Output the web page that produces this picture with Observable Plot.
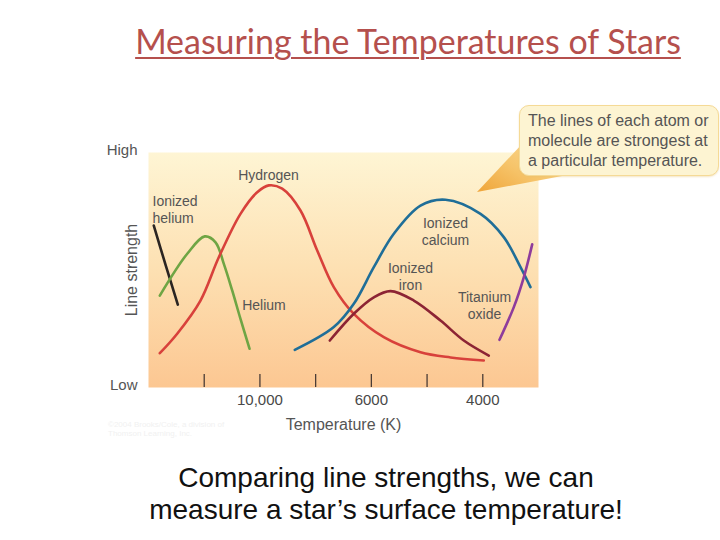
<!DOCTYPE html>
<html>
<head>
<meta charset="utf-8">
<script src="https://cdn.jsdelivr.net/npm/d3@7"></script>
<script src="https://cdn.jsdelivr.net/npm/@observablehq/plot@0.6"></script>
<style>
  body { margin: 0; background: #fff; }
  #page { position: relative; width: 720px; height: 540px; overflow: hidden; font-family: "Liberation Sans", Arial, sans-serif; }
  #chart { position: absolute; left: 0; top: 0; }
  #title { position: absolute; left: 108px; width: 600px; top: 21px; text-align: center; font-family: Lato, "Open Sans", sans-serif; color: #b5504d; white-space: nowrap; line-height: 40px; }
  #title span { display: inline-block; text-decoration: underline; text-decoration-thickness: 2px; text-underline-offset: 3px; }
  #caption { position: absolute; left: 0; width: 772px; top: 462px; text-align: center; font-size: 28px; line-height: 32px; color: #111; }
  #tail { position: absolute; left: 470px; top: 135px; width: 100px; height: 60px;
          clip-path: polygon(53px 8px, 7px 57px, 92px 41px);
          background: linear-gradient(to top right, #eea032 0%, #f6c46a 45%, #fce3a6 100%); }
  #callout { position: absolute; left: 519px; top: 105px; width: 190px; height: 64px; padding: 5px 0 0 8px;
             background: #fdf4d2; border: 1px solid #f5da96; border-radius: 10px; box-shadow: 0 1px 2px rgba(230,190,110,0.4);
             font-size: 16px; line-height: 20px; color: #555; white-space: nowrap; }
  #copy { position: absolute; left: 108px; top: 420px; font-size: 8px; line-height: 9px; color: #f1f1f1; }
</style>
</head>
<body>
<div id="page">
  <div id="chart"></div>
  <div id="tail"></div>
  <div id="callout">The lines of each atom or<br>molecule are strongest at<br>a particular temperature.</div>
  <div id="copy">©2004 Brooks/Cole, a division of<br>Thomson Learning, Inc.</div>
  <div id="title"><span id="titleText">Measuring the Temperatures of Stars</span></div>
  <div id="caption">Comparing line strengths, we can<br>measure a star’s surface temperature!</div>
</div>
<script>
// ---- Data (x = position on the spectral temperature axis, y = relative line strength 0..1) ----
const seriesNames = ["Ionized helium", "Helium", "Hydrogen", "Ionized calcium", "Ionized iron", "Titanium oxide"];
const seriesColors = ["#2b2522", "#6fa544", "#d8413b", "#1f6e98", "#8c2434", "#8e3c9c"];

const ionHeliumPos = [0.095, 0.305, 0.526];
const ionHeliumStrength = [0.689, 0.523, 0.353];

const heliumPos = [0.203, 0.695, 1.010, 1.203, 1.352, 1.502, 1.651, 1.813];
const heliumStrength = [0.391, 0.569, 0.643, 0.618, 0.526, 0.413, 0.292, 0.165];

const hydrogenPos = [0.203, 0.515, 0.933, 1.262, 1.651, 1.951, 2.159, 2.400, 2.728, 3.028, 3.326, 3.685, 4.223, 4.882, 5.421, 6.018];
const hydrogenStrength = [0.146, 0.229, 0.370, 0.554, 0.739, 0.831, 0.860, 0.846, 0.753, 0.583, 0.427, 0.313, 0.214, 0.150, 0.128, 0.115];

const ionCalciumPos = [2.626, 3.326, 3.685, 4.044, 4.403, 4.882, 5.331, 5.959, 6.377, 6.677, 6.856];
const ionCalciumStrength = [0.160, 0.257, 0.356, 0.512, 0.654, 0.774, 0.799, 0.739, 0.640, 0.512, 0.427];

const ionIronPos = [3.254, 3.685, 4.044, 4.344, 4.762, 5.241, 5.659, 6.108];
const ionIronStrength = [0.200, 0.314, 0.384, 0.410, 0.370, 0.285, 0.200, 0.136];

const tiOxidePos = [6.300, 6.557, 6.736, 6.887];
const tiOxideStrength = [0.203, 0.342, 0.469, 0.609];

const tickPositions = [1, 2, 3, 4, 5, 6];
const tickLabels = ["", "10,000", "", "6000", "", "4000"];

const labelTexts = ["Hydrogen", "Ionized\nhelium", "Helium", "Ionized\ncalcium", "Ionized\niron", "Titanium\noxide"];
const labelPos = [2.154, 0.072, 2.073, 5.331, 4.703, 6.031];
const labelStrength = [0.906, 0.760, 0.353, 0.666, 0.474, 0.351];
const labelAnchors = ["middle", "start", "middle", "middle", "middle", "middle"];

// ---- Build tables ----
const seriesPos = [ionHeliumPos, heliumPos, hydrogenPos, ionCalciumPos, ionIronPos, tiOxidePos];
const seriesStrength = [ionHeliumStrength, heliumStrength, hydrogenStrength, ionCalciumStrength, ionIronStrength, tiOxideStrength];
const rows = seriesNames.flatMap((name, s) =>
  seriesPos[s].map((p, i) => ({series: name, pos: p, strength: seriesStrength[s][i]})));
const labelRows = labelTexts.map((t, i) => ({text: t, pos: labelPos[i], strength: labelStrength[i], anchor: labelAnchors[i]}));
const tickLabelMap = new Map(tickPositions.map((p, i) => [p, tickLabels[i]]));

const labelStyle = {x: "pos", y: "strength", text: "text", fontSize: 14, fill: "#555", lineHeight: 1.2};

const chart = Plot.plot({
  width: 720,
  height: 540,
  marginLeft: 148,
  marginRight: 182,
  marginTop: 152,
  marginBottom: 153,
  style: {fontFamily: "Liberation Sans, Arial, sans-serif", background: "transparent", overflow: "visible"},
  x: {domain: [0, 7], label: null, axis: null},
  y: {domain: [0, 1], label: null, axis: null},
  color: {domain: seriesNames, range: seriesColors},
  marks: [
    Plot.frame({fill: "url(#bgGrad)", stroke: "none"}),
    Plot.ruleX(tickPositions, {x: d => d, stroke: "#4a3c36", strokeWidth: 1.3, insetTop: 222}),
    Plot.axisX(tickPositions, {tickSize: 0, tickPadding: 7, fontSize: 15, fill: "#484848", tickFormat: d => tickLabelMap.get(d), label: null}),
    Plot.line(rows, {x: "pos", y: "strength", z: "series", stroke: "series", curve: "catmull-rom", strokeWidth: 2.6}),
    Plot.text(labelRows.filter(d => d.anchor === "middle"), {...labelStyle, textAnchor: "middle"}),
    Plot.text(labelRows.filter(d => d.anchor === "start"), {...labelStyle, textAnchor: "start"}),
    Plot.text(["Temperature (K)"], {text: d => d, frameAnchor: "bottom", lineAnchor: "middle", textAnchor: "middle", dy: 37, fontSize: 16, fill: "#555"}),
    Plot.text(["Line strength"], {text: d => d, frameAnchor: "left", lineAnchor: "middle", textAnchor: "middle", rotate: -90, dx: -17, fontSize: 16, fill: "#555"}),
    Plot.text(["High"], {text: d => d, frameAnchor: "top-left", lineAnchor: "middle", textAnchor: "end", dx: -11, dy: -2, fontSize: 15, fill: "#555"}),
    Plot.text(["Low"], {text: d => d, frameAnchor: "bottom-left", lineAnchor: "middle", textAnchor: "end", dx: -11, dy: -2, fontSize: 15, fill: "#555"})
  ]
});

// vertical background gradient for the plot frame
const defs = d3.select(chart).insert("defs", ":first-child");
const grad = defs.append("linearGradient").attr("id", "bgGrad").attr("x1", 0).attr("y1", 0).attr("x2", 0).attr("y2", 1);
grad.append("stop").attr("offset", "0%").attr("stop-color", "#fef5d4");
grad.append("stop").attr("offset", "50%").attr("stop-color", "#fde0b2");
grad.append("stop").attr("offset", "100%").attr("stop-color", "#fcc792");

document.getElementById("chart").appendChild(chart);

// fit title width
const tt = document.getElementById("titleText");
let fs = 34;
tt.style.fontSize = fs + "px";
const w = tt.getBoundingClientRect().width;
fs = fs * 546 / w;
tt.style.fontSize = fs.toFixed(2) + "px";
</script>
</body>
</html>
